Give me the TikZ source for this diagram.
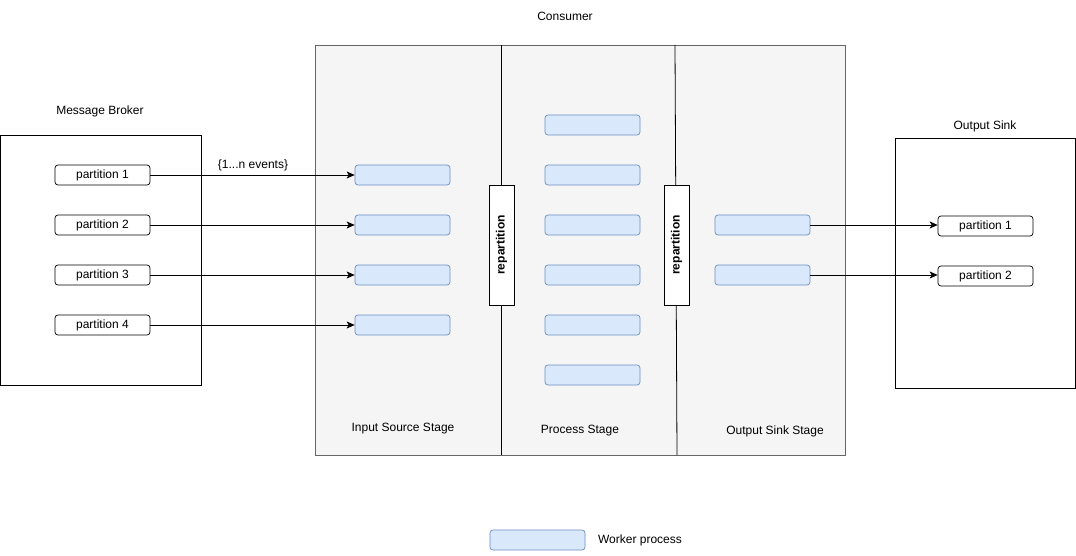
\documentclass[tikz,border=0pt]{standalone}
\usepackage{fontspec}
\setmainfont{Liberation Sans}
\usetikzlibrary{arrows.meta}
\definecolor{consumerfill}{HTML}{F5F5F5}
\definecolor{consumerdraw}{HTML}{666666}
\definecolor{workerfill}{HTML}{DAE8FC}
\definecolor{workerdraw}{HTML}{6C8EBF}
\begin{document}
\begin{tikzpicture}[x=1pt,y=-1pt,
  every node/.style={font=\fontsize{12}{14}\selectfont},
  worker/.style={draw=workerdraw,fill=workerfill,line width=0.7pt,rounded corners=3pt,minimum width=95pt,minimum height=20pt,inner sep=0pt},
  part/.style={draw=black,fill=white,line width=0.7pt,rounded corners=3pt,minimum width=95pt,minimum height=20pt,inner sep=0pt},
  repbox/.style={draw=black,fill=white,line width=0.8pt,minimum width=25pt,minimum height=120pt,inner sep=0pt},
  plain/.style={inner sep=0pt},
  conn/.style={-{Stealth[length=8pt,width=7pt,inset=2pt]},line width=0.8pt}
]
\useasboundingbox (0,0) rectangle (1076,556);
% Consumer
\node[plain] (consumerlbl) at (565,16) {Consumer};
\draw[draw=consumerdraw,fill=consumerfill] (315,45) rectangle (845,455);
\coordinate (d1t) at (501,45); \coordinate (d1b) at (501,455);
\coordinate (d2t) at (675,45); \coordinate (d2b) at (677,455);
\draw[black,line width=0.8pt] (d1t) -- (d1b);
\draw[black,line width=0.8pt] (d2t) -- (d2b);
\node[repbox] (rep1) at (501.5,245) {};
\node[rotate=90,font=\fontsize{12}{14}\selectfont\bfseries] (rep1t) at (rep1) {repartition};
\node[repbox] (rep2) at (676.5,245) {};
\node[rotate=90,font=\fontsize{12}{14}\selectfont\bfseries] (rep2t) at (rep2) {repartition};
% Message broker
\node[plain] (mblbl) at (100,111) {Message Broker};
\draw[black,line width=0.8pt] (0.5,135) rectangle (201,385);
\node[part] (p1) at (102.5,175) {partition 1};
\node[part] (p2) at (102.5,225) {partition 2};
\node[part] (p3) at (102.5,275) {partition 3};
\node[part] (p4) at (102.5,325) {partition 4};
% input workers
\node[worker] (i1) at (402.5,175) {};
\node[worker] (i2) at (402.5,225) {};
\node[worker] (i3) at (402.5,275) {};
\node[worker] (i4) at (402.5,325) {};
% process workers
\node[worker] (w1) at (592.5,125) {};
\node[worker] (w2) at (592.5,175) {};
\node[worker] (w3) at (592.5,225) {};
\node[worker] (w4) at (592.5,275) {};
\node[worker] (w5) at (592.5,325) {};
\node[worker] (w6) at (592.5,375) {};
% output workers
\node[worker] (o1) at (762.5,225) {};
\node[worker] (o2) at (762.5,275) {};
% output sink
\node[plain] (oslbl) at (985,126) {Output Sink};
\draw[black,line width=0.8pt] (895,138) rectangle (1075,388);
\node[part] (q1) at (985.5,226) {partition 1};
\node[part] (q2) at (985.5,276) {partition 2};
% connectors
\draw[conn] (p1) -- (i1);
\draw[conn] (p2) -- (i2);
\draw[conn] (p3) -- (i3);
\draw[conn] (p4) -- (i4);
\draw[conn] (o1.east) -- (q1.west |- o1.east);
\draw[conn] (o2.east) -- (q2.west |- o2.east);
\node[plain] (evlbl) at (253,165) {\{1...n events\}};
% stage labels
\node[plain] (s1) at (403,428.5) {Input Source Stage};
\node[plain] (s2) at (580,431) {Process Stage};
\node[plain] (s3) at (775,431) {Output Sink Stage};
% legend
\node[worker] (leg) at (537.5,540) {};
\node[plain] (leglbl) at (640,540.5) {Worker process};
\end{tikzpicture}
\end{document}
